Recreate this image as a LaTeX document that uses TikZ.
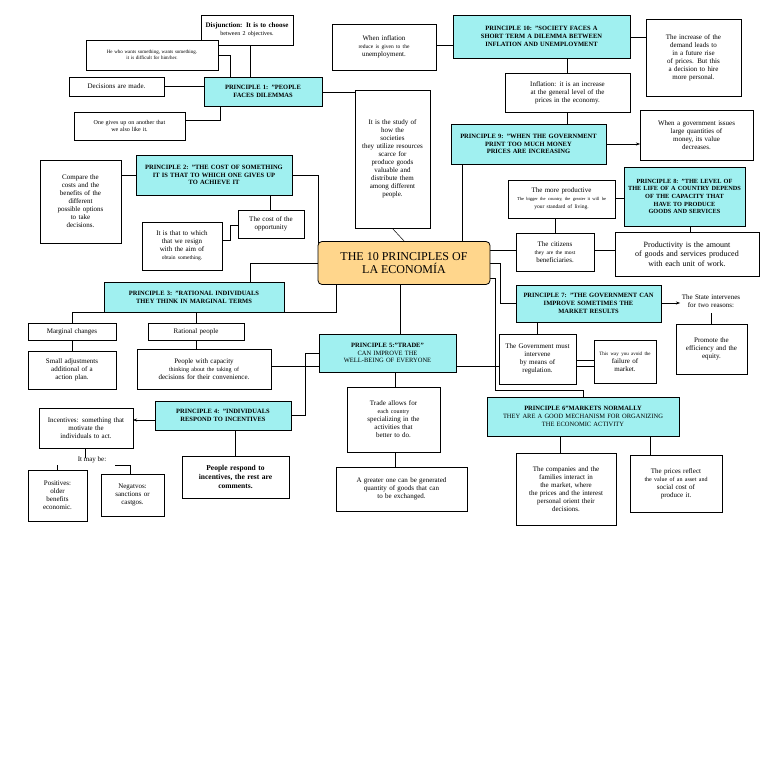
\documentclass[tikz,border=0pt]{standalone}
\usepackage{fontspec}
\setmainfont{Liberation Serif}
\usetikzlibrary{arrows.meta,calc}
\definecolor{prcyan}{RGB}{160,240,240}
\definecolor{prorange}{RGB}{255,214,140}
% box from corner to corner, named
\newcommand\cbox[7]{\node[#1,minimum width={#5-#3},minimum height={#6-#4},text width={#5-#3-2}] (#2) at ({(#3+#5)/2},{(#4+#6)/2}) {#7};}
\tikzset{
  box/.style={draw,fill=white,inner sep=1pt,align=center,font=\fontsize{7}{8}\selectfont},
  prin/.style={box,fill=prcyan,font=\fontsize{6.5}{7.8}\selectfont\bfseries},
  plain/.style={box,draw=none,fill=none},
  tiny/.style={font=\fontsize{5}{6}\selectfont},
  link/.style={draw,line width=0.5pt},
}
\begin{document}
\begin{tikzpicture}[x=1pt,y=1pt,yscale=-1]
\useasboundingbox[fill=white] (0,0) rectangle (768,762);

% connectors first
\draw[link] (405,242) -- (392,228);
\draw[link] (318,263) -- (250,263) -- (250,282);
\draw[link] (336,285) -- (336,312) -- (284,312);
\draw[link] (318,250) -- (318,175) -- (292,175);
\draw[link] (322,92) -- (355,92);
\draw[link] (490,263) -- (500,263) -- (500,303) -- (516,303);
\draw[link] (462,242) -- (462,164);
\draw[link] (400,285) -- (400,334);
\draw[link] (490,250) -- (615,250);
\draw[link] (490,278) -- (495,278) -- (495,390) -- (583,390) -- (583,397);
\draw[link] (291,415) -- (305,415) -- (305,353) -- (319,353);
\draw[link] (250,45) -- (250,77);
\draw[link] (164,86) -- (204,86);
\draw[link] (218,55) -- (230,55) -- (230,77);
\draw[link] (185,120) -- (220,120) -- (220,106);
\draw[link] (436,45) -- (453,45);
\draw[link] (630,37) -- (646,37);
\draw[link] (567,58) -- (567,73);
\draw[link] (567,112) -- (567,124);
\draw[link,-{Stealth[length=4pt]}] (606,144) -- (640,144);
\draw[link] (121,175) -- (136,175);
\draw[link] (270,195) -- (270,210);
\draw[link] (238,225) -- (230,225) -- (230,240) -- (222,240);
\draw[link] (615,198) -- (624,198);
\draw[link] (690,226) -- (690,232);
\draw[link] (555,218) -- (555,233);
\draw[link] (110,312) -- (72,312) -- (72,323);
\draw[link] (196,312) -- (196,323);
\draw[link] (72,340) -- (72,351);
\draw[link] (196,340) -- (196,349);
\draw[link,-{Stealth[length=4pt]}] (661,303) -- (680,303);
\draw[link] (711,313) -- (711,324);
\draw[link] (537,322) -- (537,334);
\draw[link] (576,360) -- (594,360);
\draw[link] (271,366) -- (594,366);
\draw[link] (395,372) -- (395,387);
\draw[link] (395,452) -- (395,467);
\draw[link] (560,436) -- (560,453);
\draw[link] (650,436) -- (650,455);
\draw[link,{Stealth[length=4pt]}-] (133,420) -- (155,420);
\draw[link] (235,430) -- (235,456);
\draw[link] (85,448) -- (85,458);
\draw[link] (57,465) -- (57,470);
\draw[link] (115,465) -- (130,465) -- (130,474);

% top left
\cbox{box}{disj}{201}{15}{293}{45}{\textbf{Disjunction: It is to choose}\\{\fontsize{6}{7}\selectfont between 2 objectives.}}
\cbox{box,tiny}{wants}{86}{40}{218}{70}{He who wants something, wants something.\\it is difficult for him/her.}
\cbox{box}{decis}{69}{77}{164}{96}{Decisions are made.}
\cbox{prin}{p1}{204}{77}{322}{106}{PRINCIPLE 1: "PEOPLE\\FACES DILEMMAS}
\cbox{box,font=\fontsize{6}{7}\selectfont}{gives}{74}{112}{185}{140}{One gives up on another that\\we also like it.}
\cbox{box}{infl}{332}{24}{436}{70}{When inflation\\{\fontsize{5.5}{7}\selectfont reduce is given to the}\\unemployment.}
\cbox{prin}{p10}{453}{15}{630}{58}{PRINCIPLE 10: "SOCIETY FACES A\\SHORT TERM A DILEMMA BETWEEN\\INFLATION AND UNEMPLOYMENT}
\cbox{box}{demand}{646}{19}{741}{96}{The increase of the\\demand leads to\\in a future rise\\of prices. But this\\a decision to hire\\more personal.}
\cbox{box}{infdef}{505}{73}{630}{112}{Inflation: it is an increase\\at the general level of the\\prices in the economy.}
\cbox{box}{study}{355}{90}{430}{228}{It is the study of\\how the\\societies\\they utilize resources\\scarce for\\produce goods\\valuable and\\distribute them\\among different\\people.}
\cbox{prin}{p9}{451}{124}{606}{164}{PRINCIPLE 9: "WHEN THE GOVERNMENT\\PRINT TOO MUCH MONEY\\PRICES ARE INCREASING}
\cbox{box}{money}{640}{110}{753}{160}{When a government issues\\large quantities of\\money, its value\\decreases.}
\cbox{prin}{p2}{136}{155}{292}{195}{PRINCIPLE 2: "THE COST OF SOMETHING\\IT IS THAT TO WHICH ONE GIVES UP\\TO ACHIEVE IT}
\cbox{box}{compare}{40}{160}{121}{243}{Compare the\\costs and the\\benefits of the\\different\\possible options\\to take\\decisions.}
\cbox{box}{opp}{238}{210}{304}{238}{The cost of the\\opportunity}
\cbox{box}{resign}{142}{222}{222}{270}{It is that to which\\that we resign\\with the aim of\\{\fontsize{5.5}{7}\selectfont obtain something.}}
\cbox{box}{prod}{508}{180}{615}{218}{The more productive\\{\fontsize{4.5}{6}\selectfont The bigger the country, the greater it will be}\\{\fontsize{5.5}{7}\selectfont your standard of living.}}
\cbox{prin,font=\fontsize{6.3}{7.6}\selectfont\bfseries}{p8}{624}{167}{745}{226}{PRINCIPLE 8: "THE LEVEL OF\\THE LIFE OF A COUNTRY DEPENDS\\OF THE CAPACITY THAT\\HAVE TO PRODUCE\\GOODS AND SERVICES}
\cbox{box}{citiz}{516}{233}{594}{271}{The citizens\\{\fontsize{5.5}{7}\selectfont they are the most}\\beneficiaries.}
\cbox{box,font=\fontsize{8}{9.5}\selectfont}{prodty}{615}{232}{759}{276}{Productivity is the amount\\of goods and services produced\\with each unit of work.}

% centre
\node[box,fill=prorange,rounded corners=4pt,line width=0.8pt,minimum width=172,minimum height=43,font=\fontsize{12}{13.5}\selectfont] (main) at (404,263) {THE 10 PRINCIPLES OF\\LA ECONOMÍA};

% middle
\cbox{prin}{p3}{104}{282}{284}{312}{PRINCIPLE 3: "RATIONAL INDIVIDUALS\\THEY THINK IN MARGINAL TERMS}
\cbox{prin}{p7}{516}{285}{661}{322}{PRINCIPLE 7: "THE GOVERNMENT CAN\\IMPROVE SOMETIMES THE\\MARKET RESULTS}
\cbox{plain}{state}{676}{290}{746}{313}{The State intervenes\\for two reasons:}
\cbox{box}{marg}{28}{323}{116}{340}{Marginal changes}
\cbox{box}{ratio}{148}{323}{244}{340}{Rational people}
\cbox{box}{promo}{676}{324}{747}{374}{Promote the\\efficiency and the\\equity.}
\cbox{prin}{p5}{319}{334}{456}{372}{PRINCIPLE 5:"TRADE"\\\mdseries CAN IMPROVE THE\\\mdseries WELL-BEING OF EVERYONE}
\cbox{box}{small}{28}{351}{116}{389}{Small adjustments\\additional of a\\action plan.}
\cbox{box}{capac}{137}{349}{271}{389}{People with capacity\\{\fontsize{6}{7}\selectfont thinking about the taking of}\\decisions for their convenience.}
\cbox{box}{govm}{499}{334}{576}{384}{The Government must\\intervene\\by means of\\regulation.}
\cbox{box}{avoid}{594}{340}{656}{383}{{\fontsize{5}{6}\selectfont This way you avoid the}\\failure of\\market.}

% bottom
\cbox{box}{trade}{347}{387}{440}{452}{Trade allows for\\{\fontsize{6}{7}\selectfont each country}\\specializing in the\\activities that\\better to do.}
\cbox{prin}{p6}{487}{397}{679}{436}{PRINCIPLE 6"MARKETS NORMALLY\\\mdseries THEY ARE A GOOD MECHANISM FOR ORGANIZING\\\mdseries THE ECONOMIC ACTIVITY}
\cbox{prin}{p4}{155}{401}{291}{430}{PRINCIPLE 4: "INDIVIDUALS\\RESPOND TO INCENTIVES}
\cbox{box}{incent}{39}{408}{133}{448}{Incentives: something that\\motivate the\\individuals to act.}
\node[plain] (maybe) at (92,460) {It may be:};
\cbox{box,font=\fontsize{7.5}{9}\selectfont\bfseries}{respond}{182}{456}{289}{498}{People respond to\\incentives, the rest are\\comments.}
\cbox{box}{posit}{28}{470}{87}{521}{Positives:\\older\\benefits\\economic.}
\cbox{box}{negat}{101}{474}{164}{516}{Negatvos:\\sanctions or\\castgos.}
\cbox{box}{greater}{336}{467}{467}{511}{A greater one can be generated\\quantity of goods that can\\to be exchanged.}
\cbox{box}{firms}{516}{453}{616}{525}{The companies and the\\families interact in\\the market, where\\the prices and the interest\\personal orient their\\decisions.}
\cbox{box}{prices}{630}{455}{722}{512}{The prices reflect\\{\fontsize{6}{7}\selectfont the value of an asset and}\\social cost of\\produce it.}
\end{tikzpicture}
\end{document}
